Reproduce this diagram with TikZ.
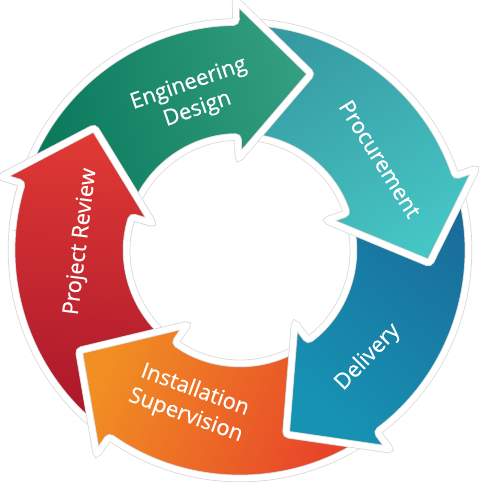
\documentclass[tikz,border=0pt]{standalone}
\usepackage{fontspec}
\setmainfont{Open Sans}
\newfontfamily\rotulo{Open Sans}[FakeBold=0.6]
\usepackage{tikz}

\definecolor{verdeA}{HTML}{08775A}
\definecolor{verdeB}{HTML}{349F80}
\definecolor{turqA}{HTML}{369AA2}
\definecolor{turqB}{HTML}{46C5C5}
\definecolor{azulA}{HTML}{1A6B9A}
\definecolor{azulB}{HTML}{1693B3}
\definecolor{narA}{HTML}{E63D2A}
\definecolor{narB}{HTML}{F18F23}
\definecolor{rojoA}{HTML}{A8152B}
\definecolor{rojoB}{HTML}{E03A34}

% radios del anillo y de las puntas
\def\Ro{228}
\def\Ri{113}
\def\Fo{250}
\def\Fi{91}
\def\Ra{190}

\tikzset{
  flecha/.style={draw=gray!30, line width=0.8bp, double=white, double distance=6bp, rounded corners=3bp},
  etiqueta/.style={text=white, font=\rotulo\fontsize{22}{27}\selectfont, align=center}
}

\newcommand{\cicloflecha}[4]{%
  \path[flecha, bottom color=#2, top color=#3, shading angle=#4]
    (#1+72:\Ro) arc[start angle=#1+72, end angle=#1, radius=\Ro]
    -- (#1:\Fo) -- (#1-23:\Ra) -- (#1:\Fi) -- (#1:\Ri)
    arc[start angle=#1, end angle=#1+72, radius=\Ri] -- cycle;
}

\begin{document}
\begin{tikzpicture}[x=1bp, y=1bp]
  \useasboundingbox (-240,-238) rectangle (240,250);

  % Flechas del ciclo
  \foreach \b/\ct/\ch/\sa in {-197/rojoA/rojoB/-4, -125/narA/narB/68,
      -53/azulA/azulB/140, 19/turqA/turqB/-148, 91/verdeA/verdeB/-76}{
    \cicloflecha{\b}{\ct}{\ch}{\sa}
  }

  % Punta roja sobre la cola verde
  \begin{scope}
    \clip (0,0) -- (175:320) -- (128:320) -- cycle;
    \cicloflecha{-197}{rojoA}{rojoB}{-4}
  \end{scope}

  % Etiquetas
  \node[etiqueta, rotate=19] (ed) at (107:160) {Engineering\\Design};
  \node[etiqueta, rotate=-58] (pr) at (33:167) {Procurement};
  \node[etiqueta, rotate=46] (de) at (-40:167) {Delivery};
  \node[etiqueta, rotate=-20] (is) at (-108:161) {Installation\\Supervision};
  \node[etiqueta, rotate=83] (re) at (177:159) {Project Review};
\end{tikzpicture}
\end{document}
